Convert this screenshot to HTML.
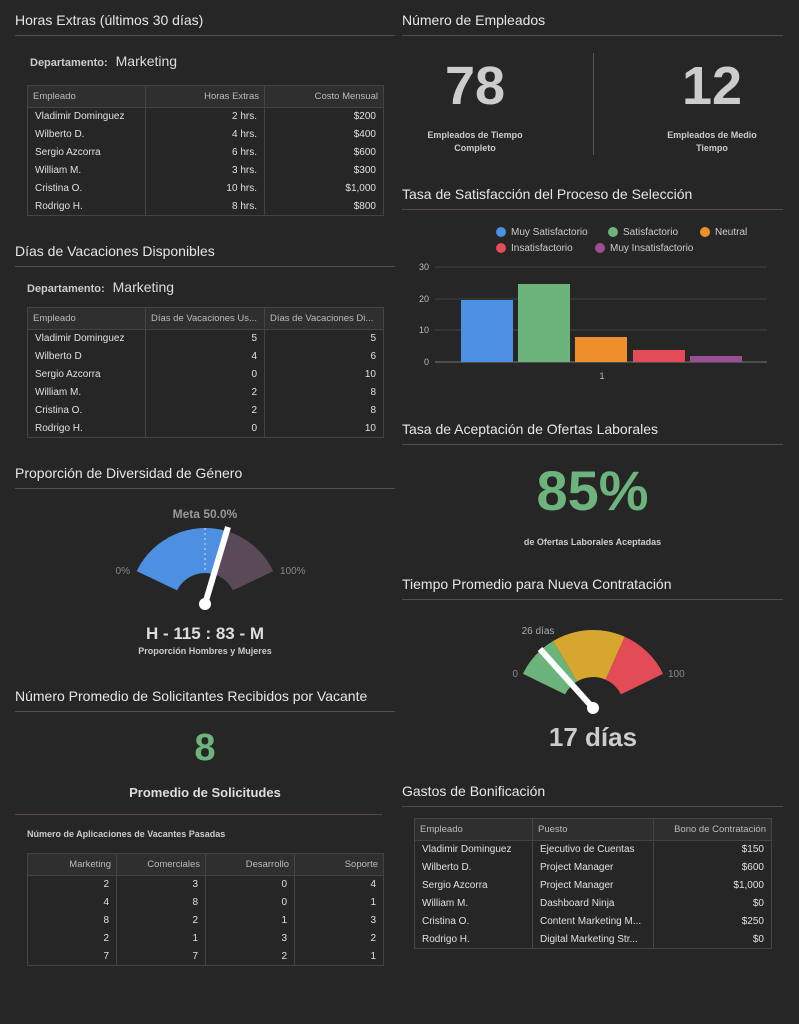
<!DOCTYPE html><html><head><meta charset="utf-8"><style>
*{margin:0;padding:0;box-sizing:border-box}
body{width:799px;height:1024px;background:#262626;font-family:"Liberation Sans",sans-serif;color:#ddd;position:relative;overflow:hidden}
.a{position:absolute}
.t{position:absolute;font-size:14px;color:#e6e6e6;border-bottom:1px solid #554a55;padding-bottom:6px;height:24px}
table{position:absolute;border-collapse:collapse;font-size:10px;color:#e0e0e0;border:1px solid #444;table-layout:fixed}
th{background:#2f2f2f;color:#bbb;font-weight:normal;height:22px;border:1px solid #444;padding:0 5px;white-space:nowrap;overflow:hidden;text-overflow:ellipsis;font-size:9.5px}
td{height:18px;padding:0 7px;border-left:1px solid #444;border-right:1px solid #444;white-space:nowrap;overflow:hidden}
.r{text-align:right}.l{text-align:left}
.dep{font-size:11px;font-weight:bold;color:#ccc}.dep span{font-weight:normal;font-size:14px;margin-left:8px;color:#ddd}
.c{text-align:center}
</style></head><body>
<div class="t" style="left:15px;top:12px;width:380px">Horas Extras (últimos 30 días)</div>
<div class="a dep" style="left:30px;top:53px">Departamento:<span>Marketing</span></div>
<table style="left:27px;top:85px;width:356px">
<colgroup><col style="width:118px"><col style="width:119px"><col style="width:119px"></colgroup>
<tr><th class="l">Empleado</th><th class="r">Horas Extras</th><th class="r">Costo Mensual</th></tr>
<tr><td>Vladimir Dominguez</td><td class="r">2 hrs.</td><td class="r">$200</td></tr>
<tr><td>Wilberto D.</td><td class="r">4 hrs.</td><td class="r">$400</td></tr>
<tr><td>Sergio Azcorra</td><td class="r">6 hrs.</td><td class="r">$600</td></tr>
<tr><td>William M.</td><td class="r">3 hrs.</td><td class="r">$300</td></tr>
<tr><td>Cristina O.</td><td class="r">10 hrs.</td><td class="r">$1,000</td></tr>
<tr><td>Rodrigo H.</td><td class="r">8 hrs.</td><td class="r">$800</td></tr>
</table>
<div class="t" style="left:15px;top:243px;width:380px">Días de Vacaciones Disponibles</div>
<div class="a dep" style="left:27px;top:279px">Departamento:<span>Marketing</span></div>
<table style="left:27px;top:307px;width:356px">
<colgroup><col style="width:118px"><col style="width:119px"><col style="width:119px"></colgroup>
<tr><th class="l">Empleado</th><th class="l">Días de Vacaciones Us...</th><th class="l">Días de Vacaciones Di...</th></tr>
<tr><td>Vladimir Dominguez</td><td class="r">5</td><td class="r">5</td></tr>
<tr><td>Wilberto D</td><td class="r">4</td><td class="r">6</td></tr>
<tr><td>Sergio Azcorra</td><td class="r">0</td><td class="r">10</td></tr>
<tr><td>William M.</td><td class="r">2</td><td class="r">8</td></tr>
<tr><td>Cristina O.</td><td class="r">2</td><td class="r">8</td></tr>
<tr><td>Rodrigo H.</td><td class="r">0</td><td class="r">10</td></tr>
</table>
<div class="t" style="left:15px;top:465px;width:380px">Proporción de Diversidad de Género</div>
<div class="t" style="left:15px;top:688px;width:380px">Número Promedio de Solicitantes Recibidos por Vacante</div>
<div class="a c" style="left:15px;top:727px;width:380px;font-size:38px;font-weight:bold;color:#6db37c">8</div>
<div class="a c" style="left:15px;top:785px;width:380px;font-size:13px;font-weight:bold;color:#ddd">Promedio de Solicitudes</div>
<div class="a" style="left:15px;top:814px;width:367px;border-top:1px solid #554a55"></div>
<div class="a" style="left:27px;top:829px;font-size:9px;font-weight:bold;color:#ccc">Número de Aplicaciones de Vacantes Pasadas</div>
<table style="left:27px;top:853px;width:356px">
<colgroup><col style="width:89px"><col style="width:89px"><col style="width:89px"><col style="width:89px"></colgroup>
<tr><th class="r">Marketing</th><th class="r">Comerciales</th><th class="r">Desarrollo</th><th class="r">Soporte</th></tr>
<tr><td class="r">2</td><td class="r">3</td><td class="r">0</td><td class="r">4</td></tr>
<tr><td class="r">4</td><td class="r">8</td><td class="r">0</td><td class="r">1</td></tr>
<tr><td class="r">8</td><td class="r">2</td><td class="r">1</td><td class="r">3</td></tr>
<tr><td class="r">2</td><td class="r">1</td><td class="r">3</td><td class="r">2</td></tr>
<tr><td class="r">7</td><td class="r">7</td><td class="r">2</td><td class="r">1</td></tr>
</table>

<div class="t" style="left:402px;top:12px;width:381px">Número de Empleados</div>
<div class="a c" style="left:405px;top:55px;width:140px;font-size:54px;font-weight:bold;color:#ccc">78</div>
<div class="a c" style="left:405px;top:129px;width:140px;font-size:9px;font-weight:bold;color:#ccc;line-height:13px">Empleados de Tiempo<br>Completo</div>
<div class="a" style="left:593px;top:53px;height:102px;border-left:1px solid #555"></div>
<div class="a c" style="left:642px;top:55px;width:140px;font-size:54px;font-weight:bold;color:#ccc">12</div>
<div class="a c" style="left:642px;top:129px;width:140px;font-size:9px;font-weight:bold;color:#ccc;line-height:13px">Empleados de Medio<br>Tiempo</div>
<div class="t" style="left:402px;top:186px;width:381px">Tasa de Satisfacción del Proceso de Selección</div>
<svg class="a" style="left:402px;top:220px" width="381" height="170" font-family="Liberation Sans" font-size="10">
<g fill="#ccc"><circle cx="99" cy="12" r="5" fill="#4d8fe0"/><text x="109" y="15">Muy Satisfactorio</text>
<circle cx="211" cy="12" r="5" fill="#6db37c"/><text x="221" y="15">Satisfactorio</text>
<circle cx="303" cy="12" r="5" fill="#ee8f2c"/><text x="313" y="15">Neutral</text>
<circle cx="99" cy="28" r="5" fill="#e34b57"/><text x="109" y="31">Insatisfactorio</text>
<circle cx="198" cy="28" r="5" fill="#9b4f96"/><text x="208" y="31">Muy Insatisfactorio</text></g>
<g stroke="#444"><line x1="33" y1="47" x2="365" y2="47"/><line x1="33" y1="79" x2="365" y2="79"/><line x1="33" y1="110" x2="365" y2="110"/><line x1="33" y1="142" x2="365" y2="142" stroke="#777"/></g>
<g fill="#bbb" font-size="9" text-anchor="end"><text x="27" y="50">30</text><text x="27" y="82">20</text><text x="27" y="113">10</text><text x="27" y="145">0</text></g>
<rect x="59" y="80" width="52" height="62" fill="#4d8fe0"/><rect x="116" y="64" width="52" height="78" fill="#6db37c"/><rect x="173" y="117" width="52" height="25" fill="#ee8f2c"/><rect x="231" y="130" width="52" height="12" fill="#e34b57"/><rect x="288" y="136" width="52" height="6" fill="#9b4f96"/>
<text x="200" y="159" fill="#bbb" font-size="9" text-anchor="middle">1</text></svg>
<div class="t" style="left:402px;top:421px;width:381px">Tasa de Aceptación de Ofertas Laborales</div>
<div class="a c" style="left:402px;top:458px;width:381px;font-size:56px;font-weight:bold;color:#6db37c">85%</div>
<div class="a c" style="left:402px;top:537px;width:381px;font-size:9px;font-weight:bold;color:#ccc">de Ofertas Laborales Aceptadas</div>
<div class="t" style="left:402px;top:576px;width:381px">Tiempo Promedio para Nueva Contratación</div>
<div class="t" style="left:402px;top:783px;width:381px">Gastos de Bonificación</div>
<table style="left:414px;top:818px;width:357px">
<colgroup><col style="width:118px"><col style="width:121px"><col style="width:118px"></colgroup>
<tr><th class="l">Empleado</th><th class="l">Puesto</th><th class="r">Bono de Contratación</th></tr>
<tr><td>Vladimir Dominguez</td><td>Ejecutivo de Cuentas</td><td class="r">$150</td></tr>
<tr><td>Wilberto D.</td><td>Project Manager</td><td class="r">$600</td></tr>
<tr><td>Sergio Azcorra</td><td>Project Manager</td><td class="r">$1,000</td></tr>
<tr><td>William M.</td><td>Dashboard Ninja</td><td class="r">$0</td></tr>
<tr><td>Cristina O.</td><td>Content Marketing M...</td><td class="r">$250</td></tr>
<tr><td>Rodrigo H.</td><td>Digital Marketing Str...</td><td class="r">$0</td></tr>
</table>

<svg class="a" style="left:0;top:0" width="799" height="1024" font-family="Liberation Sans">
<path d="M136.7,571.1 A76,76 0 0 1 227.2,531.3 L214.1,574.4 A31,31 0 0 0 177.1,590.4 Z" fill="#4d8fe0"/>
<path d="M227.2,531.3 A76,76 0 0 1 273.3,571.1 L232.9,590.4 A31,31 0 0 0 214.1,574.4 Z" fill="#5a4a58"/>
<line x1="205" y1="528" x2="205" y2="573" stroke="#ddd" stroke-dasharray="2,3"/>
<line x1="205" y1="604" x2="228" y2="527" stroke="#fff" stroke-width="6"/><circle cx="205" cy="604" r="6" fill="#fff"/>
<text x="205" y="518" fill="#999" font-size="12" font-weight="bold" text-anchor="middle">Meta 50.0%</text>
<text x="130" y="574" fill="#888" font-size="10" text-anchor="end">0%</text>
<text x="280" y="574" fill="#888" font-size="10">100%</text>
<text x="205" y="639" fill="#ddd" font-size="17" font-weight="bold" text-anchor="middle">H - 115 : 83 - M</text>
<text x="205" y="654" fill="#ccc" font-size="9" font-weight="bold" text-anchor="middle">Proporción Hombres y Mujeres</text>
<path d="M522.9,673.8 A78,78 0 0 1 553.1,641.0 L577.1,681.4 A31,31 0 0 0 565.1,694.4 Z" fill="#6db37c"/>
<path d="M553.1,641.0 A78,78 0 0 1 624.7,636.7 L605.6,679.7 A31,31 0 0 0 577.1,681.4 Z" fill="#d6a62e"/>
<path d="M624.7,636.7 A78,78 0 0 1 663.1,673.8 L620.9,694.4 A31,31 0 0 0 605.6,679.7 Z" fill="#e34b57"/>
<line x1="593" y1="708" x2="540" y2="649" stroke="#fff" stroke-width="6"/><circle cx="593" cy="708" r="6" fill="#fff"/>
<text x="538" y="634" fill="#aaa" font-size="10" text-anchor="middle">26 días</text>
<text x="518" y="677" fill="#888" font-size="10" text-anchor="end">0</text>
<text x="668" y="677" fill="#888" font-size="10">100</text>
<text x="593" y="746" fill="#ccc" font-size="26" font-weight="bold" text-anchor="middle">17 días</text>
</svg>
</body></html>
